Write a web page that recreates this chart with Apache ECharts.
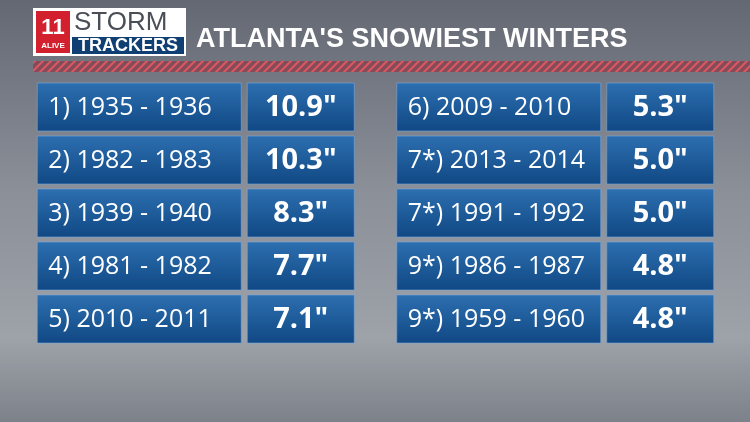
<!DOCTYPE html>
<html><head><meta charset="utf-8">
<script src="https://cdn.jsdelivr.net/npm/echarts@6/dist/echarts.min.js"></script>
<style>html,body{margin:0;padding:0;}#c{width:750px;height:422px;}</style>
</head><body><div id="c"></div>
<script>
const columns = ['left', 'right'];
const rows = ['r1', 'r2', 'r3', 'r4', 'r5'];
const labels = [
  ['1) 1935 - 1936', '2) 1982 - 1983', '3) 1939 - 1940', '4) 1981 - 1982', '5) 2010 - 2011'],
  ['6) 2009 - 2010', '7*) 2013 - 2014', '7*) 1991 - 1992', '9*) 1986 - 1987', '9*) 1959 - 1960']
];
const values = [
  ['10.9"', '10.3"', '8.3"', '7.7"', '7.1"'],
  ['5.3"', '5.0"', '5.0"', '4.8"', '4.8"']
];
const title = "ATLANTA'S SNOWIEST WINTERS";

const data = [];
columns.forEach((c, ci) => rows.forEach((r, ri) => data.push([c, r, labels[ci][ri], values[ci][ri]])));

const pc = document.createElement('canvas'); pc.width = 8; pc.height = 8;
const px = pc.getContext('2d');
px.fillStyle = 'rgba(150,40,55,0.55)'; px.fillRect(0,0,8,8);
px.strokeStyle = 'rgba(230,90,100,0.9)'; px.lineWidth = 2;
px.beginPath(); px.moveTo(0,8); px.lineTo(8,0); px.moveTo(-4,4); px.lineTo(4,-4); px.moveTo(4,12); px.lineTo(12,4); px.stroke();

const boxFill = new echarts.graphic.LinearGradient(0,0,0,1,[{offset:0,color:'#2d6fb0'},{offset:1,color:'#104884'}]);
const chart = echarts.init(document.getElementById('c'));
chart.setOption({
  backgroundColor: new echarts.graphic.LinearGradient(0,0,0,1,[
    {offset:0,color:'#636873'},{offset:0.45,color:'#8a8f98'},{offset:0.8,color:'#9ea3aa'},{offset:1,color:'#7d828a'}]),
  grid: {left: 16, width: 719, top: 80.5, height: 265},
  xAxis: {type: 'category', data: columns, show: false},
  yAxis: {type: 'category', data: rows, inverse: true, show: false},
  graphic: [
    {type:'rect', shape:{x:33,y:8,width:153,height:48}, style:{fill:'#ffffff'}},
    {type:'rect', shape:{x:36,y:11,width:34,height:42}, style:{fill:'#d3202f'}},
    {type:'text', x:53, y:28, style:{text:'11', fill:'#fff', font:'bold 22px Arial', align:'center', verticalAlign:'middle'}},
    {type:'text', x:53, y:46, style:{text:'ALIVE', fill:'#fff', font:'bold 8px Arial', align:'center', verticalAlign:'middle'}},
    {type:'text', x:74, y:23, style:{text:'STORM', fill:'#4a4f57', font:'26px "Liberation Sans Narrow", Arial', verticalAlign:'middle'}},
    {type:'rect', shape:{x:72,y:37,width:112,height:17}, style:{fill:'#0f3f73'}},
    {type:'text', x:128, y:46, style:{text:'TRACKERS', fill:'#fff', font:'bold 18px "Liberation Sans Narrow", Arial', align:'center', verticalAlign:'middle'}},
    {type:'text', x:196, y:40, style:{text:title, fill:'#fff', font:'bold 27px "Liberation Sans Narrow", Arial', verticalAlign:'middle'}},
    {type:'rect', shape:{x:33,y:61,width:717,height:11}, style:{fill:{image:pc, repeat:'repeat'}}}
  ],
  series: [{
    type: 'custom',
    data: data,
    encode: {x: 0, y: 1},
    renderItem: function (params, api) {
      const c = api.coord([api.value(0), api.value(1)]);
      const h = 48;
      const left = c[0] - 158.5, top = c[1] - h/2;
      return {type:'group', children:[
        {type:'rect', shape:{x:left,y:top,width:204,height:h}, style:{fill:boxFill, stroke:'rgba(120,170,220,0.6)', lineWidth:1}},
        {type:'rect', shape:{x:left+210,y:top,width:107,height:h}, style:{fill:boxFill, stroke:'rgba(120,170,220,0.6)', lineWidth:1}},
        {type:'text', x:left+11, y:c[1]+1, style:{text:api.value(2), fill:'#fff', font:'25px "Open Sans", Arial', verticalAlign:'middle'}},
        {type:'text', x:left+263.5, y:c[1]+1, style:{text:api.value(3), fill:'#fff', font:'bold 29px "Open Sans", Arial', align:'center', verticalAlign:'middle'}}
      ]};
    }
  }]
});
</script></body></html>
